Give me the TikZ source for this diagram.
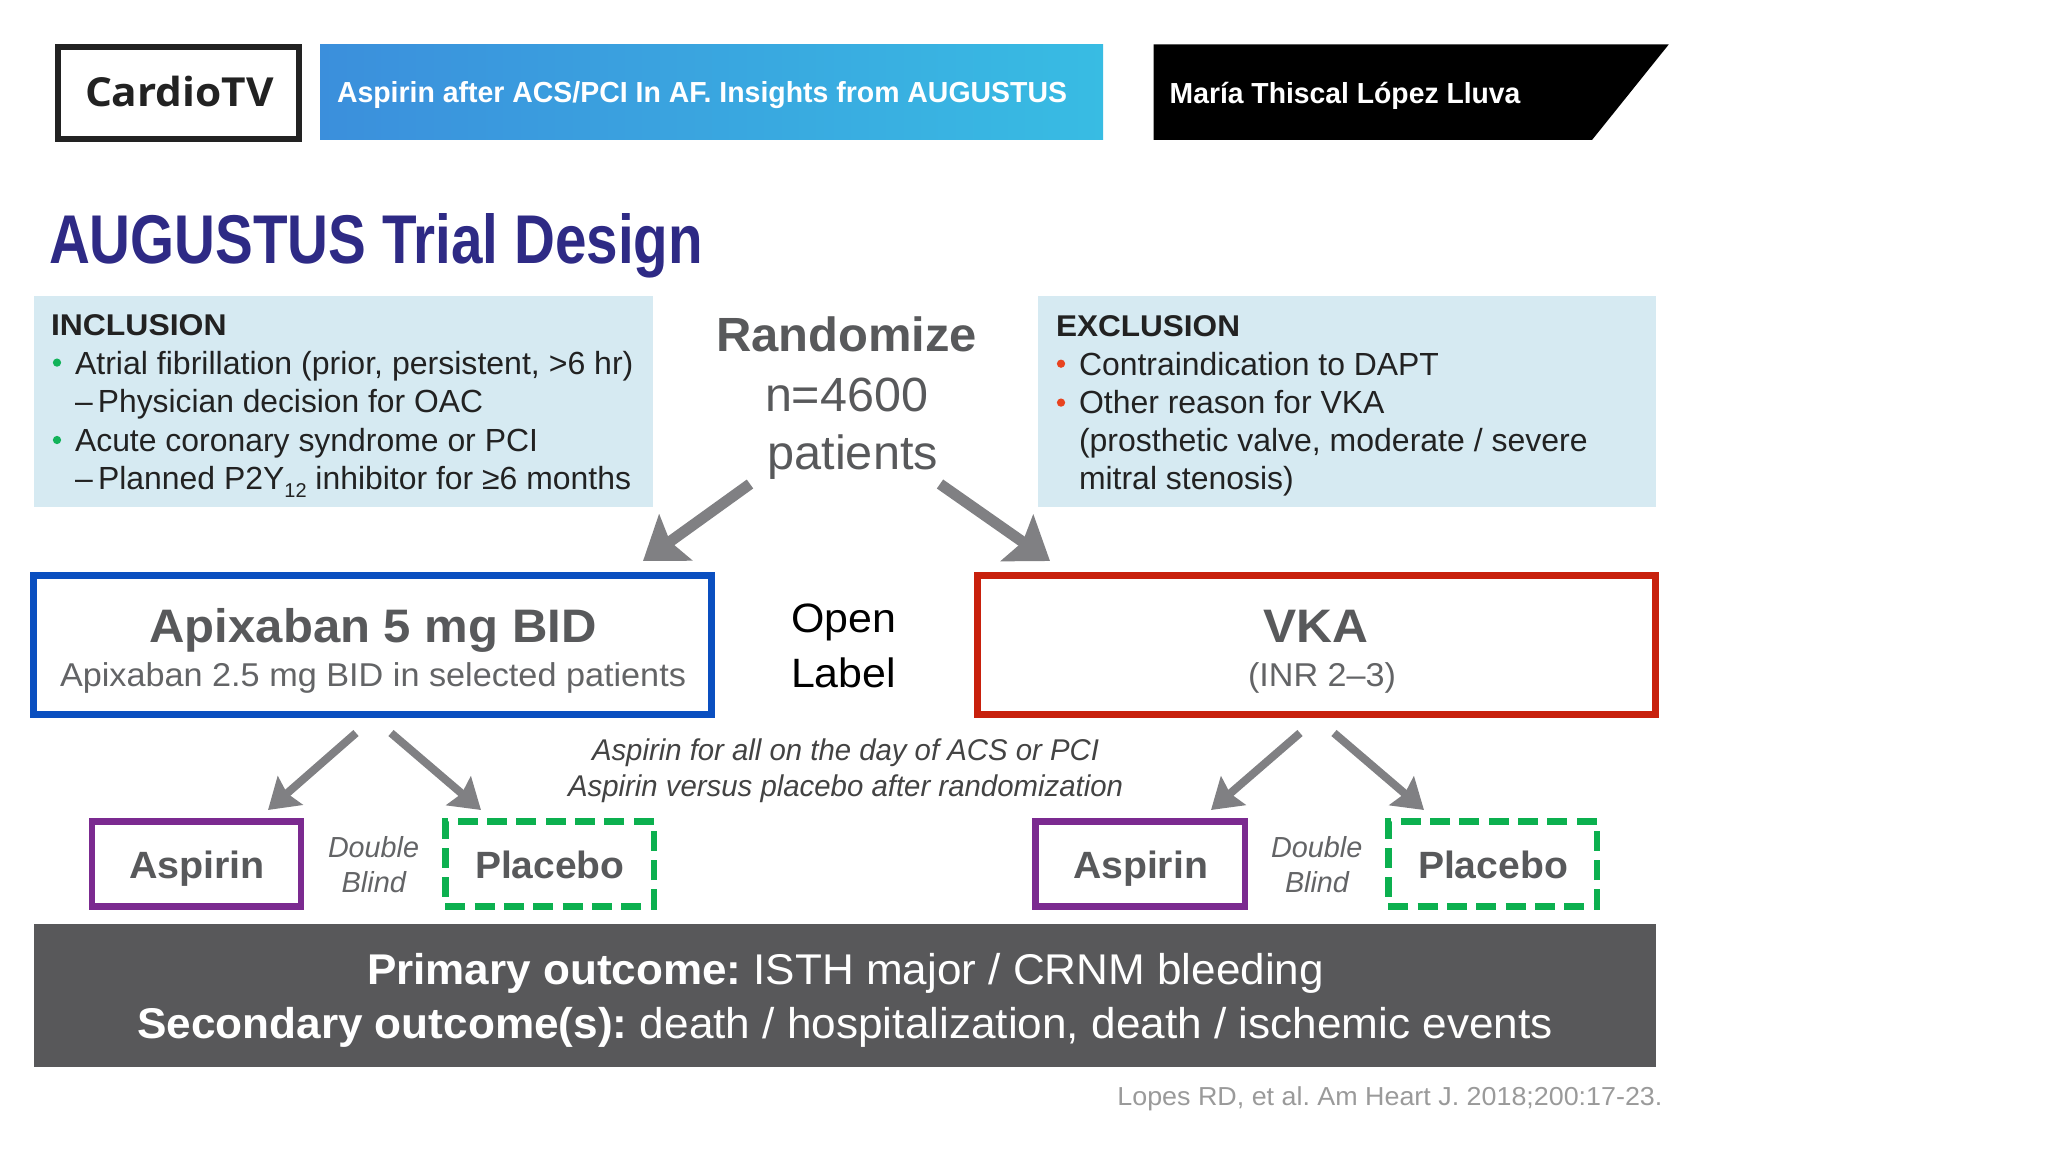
\documentclass[tikz,border=0pt]{standalone}
\usepackage{fontspec}
\usepackage{graphicx}
\usetikzlibrary{arrows.meta}
\setmainfont{Liberation Sans}
\newfontfamily\logofont{Open Sans}
\newlength\ux \setlength\ux{0.75pt}
\frenchspacing
% fit: width in px, font size in px, text; keeps the real text, sets its width exactly
\newcommand\fit[3]{\resizebox{#1\ux}{\height}{\fontsize{#2\ux}{#2\ux}\selectfont\frenchspacing #3}}
\definecolor{inkdark}{HTML}{222222}
\definecolor{inkgrey}{HTML}{58595B}
\definecolor{inkmid}{HTML}{636466}
\definecolor{titleblue}{HTML}{2E2A85}
\definecolor{panel}{HTML}{D6EAF2}
\definecolor{barfill}{HTML}{58585A}
\definecolor{apixblue}{HTML}{0A4FC0}
\definecolor{vkared}{HTML}{C8200C}
\definecolor{aspurple}{HTML}{7B2A90}
\definecolor{plgreen}{HTML}{0CB04F}
\definecolor{arrowgrey}{HTML}{808083}
\definecolor{bandleft}{HTML}{3B8FDC}
\definecolor{bandright}{HTML}{38BCE3}
\definecolor{citegrey}{HTML}{9A9A9A}
\definecolor{bulgreen}{HTML}{12B35A}
\definecolor{bulred}{HTML}{E8431F}
\tikzset{
  tx/.style={anchor=base west,inner sep=0pt,outer sep=0pt},
  boxn/.style={inner sep=0pt,outer sep=0pt},
  panelbox/.style={boxn,fill=panel},
  armbox/.style={boxn,draw,fill=white,line width=5.25pt},
  purplebox/.style={boxn,draw=aspurple,fill=white,line width=4.9pt},
  greenbox/.style={boxn,draw=plgreen,fill=white,line width=4.9pt,dash pattern=on 15pt off 7pt},
  bigarrow/.style={draw=arrowgrey,line width=8.25pt,-{Stealth[length=30pt,width=42pt,inset=5pt]}},
  smallarrow/.style={draw=arrowgrey,line width=6pt,-{Stealth[length=22pt,width=28pt,inset=3pt]}},
  bulletg/.style={circle,inner sep=0pt,minimum size=6.2pt,fill=bulgreen},
  bulletr/.style={circle,inner sep=0pt,minimum size=6.2pt,fill=bulred}
}
\begin{document}
\begin{tikzpicture}[x=0.75pt,y=-0.75pt]
\useasboundingbox (0,0) rectangle (2048,1152);
\fill[white] (0,0) rectangle (2048,1152);

% header
\node[boxn,draw=inkdark,line width=4.5pt,fill=white,minimum width=180.4pt,minimum height=69pt] (logo) at (178.75,93.5) {};
\node[tx,text=inkdark] (logot) at (85,106.5) {\fit{189}{40}{\logofont\bfseries CardioTV}};
\node[boxn,left color=bandleft,right color=bandright,minimum width=587.25pt,minimum height=71.25pt] (band) at (711.5,92) {};
\node[tx,text=white] (bandt) at (337,103) {\fit{730}{29}{\bfseries Aspirin after ACS/PCI In AF. Insights from AUGUSTUS}};
\fill[black] (1153.5,44.5) -- (1668.7,44.5) -- (1592,140) -- (1153.5,140) -- cycle;
\node[tx,text=white] (speaker) at (1169.7,103.5) {\fit{350.7}{29}{\bfseries María Thiscal López Lluva}};

% title
\node[tx,text=titleblue] (title) at (49,263) {\fit{654}{69}{\bfseries AUGUSTUS Trial Design}};

% inclusion
\node[panelbox,minimum width=464.25pt,minimum height=158.25pt] (inc) at (343.5,401.5) {};
\node[tx,text=inkdark] (inch) at (51,335) {\fit{175.6}{30}{\bfseries INCLUSION}};
\node[bulletg] (ib1) at (57,362.6) {};
\node[tx,text=inkdark] (il1) at (75,374.5) {\fit{558.5}{32}{Atrial fibrillation (prior, persistent, >6 hr)}};
\node[tx,text=inkdark] (il2) at (75,412.5) {\fit{408}{32}{–\,Physician decision for OAC}};
\node[bulletg] (ib2) at (57,440) {};
\node[tx,text=inkdark] (il3) at (75,451.5) {\fit{463}{32}{Acute coronary syndrome or PCI}};
\node[tx,text=inkdark] (il4) at (75,489) {\fit{556}{32}{–\,Planned P2Y\raisebox{-0.25em}{\fontsize{20\ux}{20\ux}\selectfont 12} inhibitor for ≥6 months}};

% exclusion
\node[panelbox,minimum width=463.2pt,minimum height=158.25pt] (exc) at (1347.2,401.5) {};
\node[tx,text=inkdark] (exch) at (1056,336) {\fit{184}{30}{\bfseries EXCLUSION}};
\node[bulletr] (eb1) at (1061,363.7) {};
\node[tx,text=inkdark] (el1) at (1079,375.5) {\fit{360}{32}{Contraindication to DAPT}};
\node[bulletr] (eb2) at (1061,402.6) {};
\node[tx,text=inkdark] (el2) at (1079,413.5) {\fit{305.5}{32}{Other reason for VKA}};
\node[tx,text=inkdark] (el3) at (1079,451.5) {\fit{508.7}{32}{(prosthetic valve, moderate / severe}};
\node[tx,text=inkdark] (el4) at (1079,489.5) {\fit{214.8}{32}{mitral stenosis)}};

% randomize
\node[tx,text=inkgrey] (rand1) at (716,351) {\fit{261}{48}{\bfseries Randomize}};
\node[tx,text=inkgrey] (rand2) at (765,411) {\fit{163}{48}{n=4600}};
\node[tx,text=inkgrey] (rand3) at (767.5,469) {\fit{170.5}{48}{patients}};

% treatment arms
\node[armbox,draw=apixblue,minimum width=508.5pt,minimum height=104.25pt] (apix) at (372.5,644.5) {};
\node[tx,text=inkgrey] (apixa) at (149.5,642) {\fit{447}{47}{\bfseries Apixaban 5 mg BID}};
\node[tx,text=inkmid] (apixb) at (60,686) {\fit{626}{33}{Apixaban 2.5 mg BID in selected patients}};
\node[tx,text=black] (open) at (791,632) {\fit{105}{41}{Open}};
\node[tx,text=black] (labl) at (791,687) {\fit{105}{41}{Label}};
\node[armbox,draw=vkared,minimum width=508.5pt,minimum height=104.25pt] (vka) at (1316.5,644.5) {};
\node[tx,text=inkgrey] (vkaa) at (1263,642) {\fit{105}{47}{\bfseries VKA}};
\node[tx,text=inkmid] (vkab) at (1248,686) {\fit{148}{33}{(INR 2–3)}};

% aspirin note
\node[tx,text=inkdark!85!white] (note1) at (592,760.5) {\fit{507}{30}{\itshape Aspirin for all on the day of ACS or PCI}};
\node[tx,text=inkdark!85!white] (note2) at (568,796.5) {\fit{555}{30}{\itshape Aspirin versus placebo after randomization}};

% sub-arms
\node[purplebox,minimum width=156.8pt,minimum height=63.4pt] (asp1) at (196.5,864) {};
\node[tx,text=inkgrey] (asp1t) at (129,878) {\fit{136}{38}{\bfseries Aspirin}};
\node[greenbox,minimum width=156.4pt,minimum height=63.4pt] (pla1) at (549.5,864) {};
\node[tx,text=inkgrey] (pla1t) at (475,878) {\fit{149.5}{38}{\bfseries Placebo}};
\node[tx,text=inkmid] (db1a) at (328,857) {\fit{91}{29}{\itshape Double}};
\node[tx,text=inkmid] (db1b) at (341.6,892) {\fit{64.4}{29}{\itshape Blind}};
\node[purplebox,minimum width=156.75pt,minimum height=63.4pt] (asp2) at (1140.25,864) {};
\node[tx,text=inkgrey] (asp2t) at (1073,878) {\fit{135}{38}{\bfseries Aspirin}};
\node[greenbox,minimum width=156.4pt,minimum height=63.4pt] (pla2) at (1492.5,864) {};
\node[tx,text=inkgrey] (pla2t) at (1418,878) {\fit{150}{38}{\bfseries Placebo}};
\node[tx,text=inkmid] (db2a) at (1271,857) {\fit{91.3}{29}{\itshape Double}};
\node[tx,text=inkmid] (db2b) at (1285,892) {\fit{64}{29}{\itshape Blind}};

% outcomes
\node[boxn,fill=barfill,minimum width=1216.5pt,minimum height=107.25pt] (bar) at (845,995) {};
\node[tx,text=white] (pri) at (367,984.5) {\fit{957}{43}{\textbf{Primary outcome:} ISTH major / CRNM bleeding}};
\node[tx,text=white] (sec) at (137,1038) {\fit{1416}{43}{\textbf{Secondary outcome(s):} death / hospitalization, death / ischemic events}};
\node[tx,text=citegrey] (cite) at (1117.4,1105) {\fit{545}{26}{Lopes RD, et al. Am Heart J. 2018;200:17-23.}};

% arrow ends
\coordinate (r1) at (750,484);
\coordinate (r1e) at (643,561);
\coordinate (r2) at (940,484);
\coordinate (r2e) at (1050,561);
\coordinate (a1) at (356,733);
\coordinate (a1e) at (268,810);
\coordinate (a2) at (391,733);
\coordinate (a2e) at (481,810);
\coordinate (v1) at (1300,733);
\coordinate (v1e) at (1211,810);
\coordinate (v2) at (1334,733);
\coordinate (v2e) at (1424,810);
\draw[bigarrow] (r1) -- (r1e);
\draw[bigarrow] (r2) -- (r2e);
\draw[smallarrow] (a1) -- (a1e);
\draw[smallarrow] (a2) -- (a2e);
\draw[smallarrow] (v1) -- (v1e);
\draw[smallarrow] (v2) -- (v2e);
\end{tikzpicture}
\end{document}
